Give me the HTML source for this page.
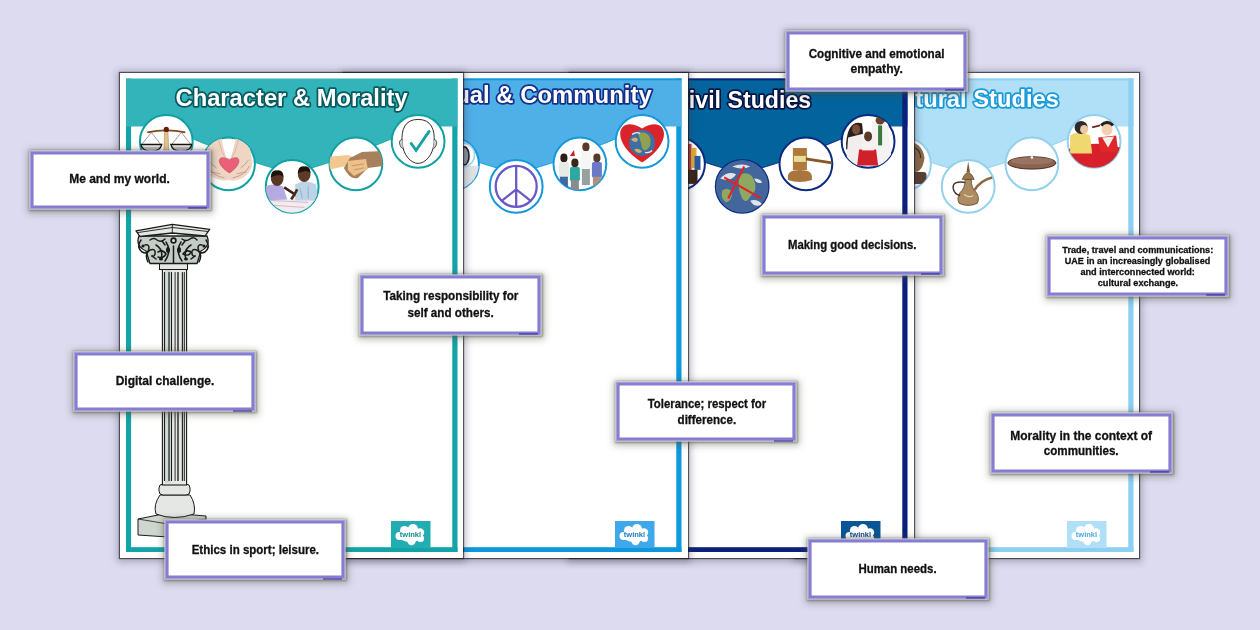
<!DOCTYPE html><html><head><meta charset="utf-8"><title>Twinkl PSHE posters</title><style>

html,body{margin:0;padding:0}
body{width:1260px;height:630px;overflow:hidden;background:#dddbf0;position:relative;font-family:"Liberation Sans",sans-serif}
.poster svg{will-change:transform}
.poster{position:absolute;top:72.5px;width:343.5px;height:485px;background:#fff;box-shadow:0 0 1px 1px rgba(25,25,35,.68),0 1px 7px 3px rgba(60,60,80,.33)}
.card{position:absolute;box-sizing:border-box;background:#fff;border:1.4px solid #a49ee2;box-shadow:inset 0 0 0 2.6px #847dd0,0 0 0 .8px rgba(255,255,255,.5),0 0 2px 1.5px rgba(90,90,65,.55),0 1px 7px 3.5px rgba(75,75,65,.36)}
.tw{position:absolute;right:2px;bottom:-1.5px;width:19px;height:2px;background:#1c1490;opacity:.45}

</style></head><body>
<div class="poster" id="p4" style="left:795.5px">
<svg width="343.5" height="485.0" viewBox="0 0 343.5 485.0" style="position:absolute;left:0;top:0" font-family="Liberation Sans" font-weight="bold">
<defs>
<clipPath id="p4c0"><circle cx="46.3" cy="68.4" r="26.4"/></clipPath>
<clipPath id="p4c1"><circle cx="108.5" cy="90.9" r="26.4"/></clipPath>
<clipPath id="p4c2"><circle cx="172.2" cy="113.4" r="26.4"/></clipPath>
<clipPath id="p4c3"><circle cx="235.9" cy="90.9" r="26.4"/></clipPath>
<clipPath id="p4c4"><circle cx="298.1" cy="68.4" r="26.4"/></clipPath>
</defs>
<rect x="6" y="5.5" width="331.5" height="48" fill="#b0dff8"/>
<path d="M37.2,52.90 L44.2,53.59 L45.2,54.03 L46.2,54.47 L47.2,54.91 L48.2,55.34 L49.2,55.78 L50.2,56.22 L51.2,56.66 L52.2,57.09 L53.2,57.52 L54.2,57.96 L55.2,58.39 L56.2,58.82 L57.2,59.25 L58.2,59.68 L59.2,60.11 L60.2,60.54 L61.2,60.97 L62.2,61.39 L63.2,61.82 L64.2,62.24 L65.2,62.67 L66.2,63.09 L67.2,63.51 L68.2,63.93 L69.2,64.35 L70.2,64.77 L71.2,65.19 L72.2,65.61 L73.2,66.02 L74.2,66.44 L75.2,66.85 L76.2,67.26 L77.2,67.68 L78.2,68.09 L79.2,68.50 L80.2,68.91 L81.2,69.31 L82.2,69.72 L83.2,70.13 L84.2,70.53 L85.2,70.94 L86.2,71.34 L87.2,71.74 L88.2,72.14 L89.2,72.54 L90.2,72.94 L91.2,73.34 L92.2,73.73 L93.2,74.13 L94.2,74.52 L95.2,74.91 L96.2,75.30 L97.2,75.69 L98.2,76.08 L99.2,76.47 L100.2,76.86 L101.2,77.24 L102.2,77.62 L103.2,78.01 L104.2,78.39 L105.2,78.77 L106.2,79.15 L107.2,79.52 L108.2,79.90 L109.2,80.27 L110.2,80.65 L111.2,81.02 L112.2,81.39 L113.2,81.76 L114.2,82.13 L115.2,82.49 L116.2,82.86 L117.2,83.22 L118.2,83.58 L119.2,83.94 L120.2,84.30 L121.2,84.66 L122.2,85.01 L123.2,85.36 L124.2,85.72 L125.2,86.06 L126.2,86.41 L127.2,86.76 L128.2,87.10 L129.2,87.45 L130.2,87.79 L131.2,88.13 L132.2,88.46 L133.2,88.80 L134.2,89.13 L135.2,89.46 L136.2,89.79 L137.2,90.12 L138.2,90.44 L139.2,90.77 L140.2,91.09 L141.2,91.40 L142.2,91.72 L143.2,92.03 L144.2,92.34 L145.2,92.65 L146.2,92.96 L147.2,93.26 L148.2,93.56 L149.2,93.86 L150.2,94.15 L151.2,94.44 L152.2,94.73 L153.2,95.01 L154.2,95.29 L155.2,95.57 L156.2,95.84 L157.2,96.11 L158.2,96.38 L159.2,96.64 L160.2,96.89 L161.2,97.14 L162.2,97.39 L163.2,97.63 L164.2,97.86 L165.2,98.09 L166.2,98.31 L167.2,98.52 L168.2,98.72 L169.2,98.91 L170.2,99.09 L171.2,99.25 L172.2,99.36 L173.2,99.25 L174.2,99.09 L175.2,98.91 L176.2,98.72 L177.2,98.52 L178.2,98.31 L179.2,98.09 L180.2,97.86 L181.2,97.63 L182.2,97.39 L183.2,97.14 L184.2,96.89 L185.2,96.64 L186.2,96.38 L187.2,96.11 L188.2,95.84 L189.2,95.57 L190.2,95.29 L191.2,95.01 L192.2,94.73 L193.2,94.44 L194.2,94.15 L195.2,93.86 L196.2,93.56 L197.2,93.26 L198.2,92.96 L199.2,92.65 L200.2,92.34 L201.2,92.03 L202.2,91.72 L203.2,91.40 L204.2,91.09 L205.2,90.77 L206.2,90.44 L207.2,90.12 L208.2,89.79 L209.2,89.46 L210.2,89.13 L211.2,88.80 L212.2,88.46 L213.2,88.13 L214.2,87.79 L215.2,87.45 L216.2,87.10 L217.2,86.76 L218.2,86.41 L219.2,86.06 L220.2,85.72 L221.2,85.36 L222.2,85.01 L223.2,84.66 L224.2,84.30 L225.2,83.94 L226.2,83.58 L227.2,83.22 L228.2,82.86 L229.2,82.49 L230.2,82.13 L231.2,81.76 L232.2,81.39 L233.2,81.02 L234.2,80.65 L235.2,80.27 L236.2,79.90 L237.2,79.52 L238.2,79.15 L239.2,78.77 L240.2,78.39 L241.2,78.01 L242.2,77.62 L243.2,77.24 L244.2,76.86 L245.2,76.47 L246.2,76.08 L247.2,75.69 L248.2,75.30 L249.2,74.91 L250.2,74.52 L251.2,74.13 L252.2,73.73 L253.2,73.34 L254.2,72.94 L255.2,72.54 L256.2,72.14 L257.2,71.74 L258.2,71.34 L259.2,70.94 L260.2,70.53 L261.2,70.13 L262.2,69.72 L263.2,69.31 L264.2,68.91 L265.2,68.50 L266.2,68.09 L267.2,67.68 L268.2,67.26 L269.2,66.85 L270.2,66.44 L271.2,66.02 L272.2,65.61 L273.2,65.19 L274.2,64.77 L275.2,64.35 L276.2,63.93 L277.2,63.51 L278.2,63.09 L279.2,62.67 L280.2,62.24 L281.2,61.82 L282.2,61.39 L283.2,60.97 L284.2,60.54 L285.2,60.11 L286.2,59.68 L287.2,59.25 L288.2,58.82 L289.2,58.39 L290.2,57.96 L291.2,57.52 L292.2,57.09 L293.2,56.66 L294.2,56.22 L295.2,55.78 L296.2,55.34 L297.2,54.91 L298.2,54.47 L299.2,54.03 L300.2,53.59 L307.2,52.90 Z" fill="#b0dff8"/>
<path d="M44.2,53.59 L45.2,54.03 L46.2,54.47 L47.2,54.91 L48.2,55.34 L49.2,55.78 L50.2,56.22 L51.2,56.66 L52.2,57.09 L53.2,57.52 L54.2,57.96 L55.2,58.39 L56.2,58.82 L57.2,59.25 L58.2,59.68 L59.2,60.11 L60.2,60.54 L61.2,60.97 L62.2,61.39 L63.2,61.82 L64.2,62.24 L65.2,62.67 L66.2,63.09 L67.2,63.51 L68.2,63.93 L69.2,64.35 L70.2,64.77 L71.2,65.19 L72.2,65.61 L73.2,66.02 L74.2,66.44 L75.2,66.85 L76.2,67.26 L77.2,67.68 L78.2,68.09 L79.2,68.50 L80.2,68.91 L81.2,69.31 L82.2,69.72 L83.2,70.13 L84.2,70.53 L85.2,70.94 L86.2,71.34 L87.2,71.74 L88.2,72.14 L89.2,72.54 L90.2,72.94 L91.2,73.34 L92.2,73.73 L93.2,74.13 L94.2,74.52 L95.2,74.91 L96.2,75.30 L97.2,75.69 L98.2,76.08 L99.2,76.47 L100.2,76.86 L101.2,77.24 L102.2,77.62 L103.2,78.01 L104.2,78.39 L105.2,78.77 L106.2,79.15 L107.2,79.52 L108.2,79.90 L109.2,80.27 L110.2,80.65 L111.2,81.02 L112.2,81.39 L113.2,81.76 L114.2,82.13 L115.2,82.49 L116.2,82.86 L117.2,83.22 L118.2,83.58 L119.2,83.94 L120.2,84.30 L121.2,84.66 L122.2,85.01 L123.2,85.36 L124.2,85.72 L125.2,86.06 L126.2,86.41 L127.2,86.76 L128.2,87.10 L129.2,87.45 L130.2,87.79 L131.2,88.13 L132.2,88.46 L133.2,88.80 L134.2,89.13 L135.2,89.46 L136.2,89.79 L137.2,90.12 L138.2,90.44 L139.2,90.77 L140.2,91.09 L141.2,91.40 L142.2,91.72 L143.2,92.03 L144.2,92.34 L145.2,92.65 L146.2,92.96 L147.2,93.26 L148.2,93.56 L149.2,93.86 L150.2,94.15 L151.2,94.44 L152.2,94.73 L153.2,95.01 L154.2,95.29 L155.2,95.57 L156.2,95.84 L157.2,96.11 L158.2,96.38 L159.2,96.64 L160.2,96.89 L161.2,97.14 L162.2,97.39 L163.2,97.63 L164.2,97.86 L165.2,98.09 L166.2,98.31 L167.2,98.52 L168.2,98.72 L169.2,98.91 L170.2,99.09 L171.2,99.25 L172.2,99.36 L173.2,99.25 L174.2,99.09 L175.2,98.91 L176.2,98.72 L177.2,98.52 L178.2,98.31 L179.2,98.09 L180.2,97.86 L181.2,97.63 L182.2,97.39 L183.2,97.14 L184.2,96.89 L185.2,96.64 L186.2,96.38 L187.2,96.11 L188.2,95.84 L189.2,95.57 L190.2,95.29 L191.2,95.01 L192.2,94.73 L193.2,94.44 L194.2,94.15 L195.2,93.86 L196.2,93.56 L197.2,93.26 L198.2,92.96 L199.2,92.65 L200.2,92.34 L201.2,92.03 L202.2,91.72 L203.2,91.40 L204.2,91.09 L205.2,90.77 L206.2,90.44 L207.2,90.12 L208.2,89.79 L209.2,89.46 L210.2,89.13 L211.2,88.80 L212.2,88.46 L213.2,88.13 L214.2,87.79 L215.2,87.45 L216.2,87.10 L217.2,86.76 L218.2,86.41 L219.2,86.06 L220.2,85.72 L221.2,85.36 L222.2,85.01 L223.2,84.66 L224.2,84.30 L225.2,83.94 L226.2,83.58 L227.2,83.22 L228.2,82.86 L229.2,82.49 L230.2,82.13 L231.2,81.76 L232.2,81.39 L233.2,81.02 L234.2,80.65 L235.2,80.27 L236.2,79.90 L237.2,79.52 L238.2,79.15 L239.2,78.77 L240.2,78.39 L241.2,78.01 L242.2,77.62 L243.2,77.24 L244.2,76.86 L245.2,76.47 L246.2,76.08 L247.2,75.69 L248.2,75.30 L249.2,74.91 L250.2,74.52 L251.2,74.13 L252.2,73.73 L253.2,73.34 L254.2,72.94 L255.2,72.54 L256.2,72.14 L257.2,71.74 L258.2,71.34 L259.2,70.94 L260.2,70.53 L261.2,70.13 L262.2,69.72 L263.2,69.31 L264.2,68.91 L265.2,68.50 L266.2,68.09 L267.2,67.68 L268.2,67.26 L269.2,66.85 L270.2,66.44 L271.2,66.02 L272.2,65.61 L273.2,65.19 L274.2,64.77 L275.2,64.35 L276.2,63.93 L277.2,63.51 L278.2,63.09 L279.2,62.67 L280.2,62.24 L281.2,61.82 L282.2,61.39 L283.2,60.97 L284.2,60.54 L285.2,60.11 L286.2,59.68 L287.2,59.25 L288.2,58.82 L289.2,58.39 L290.2,57.96 L291.2,57.52 L292.2,57.09 L293.2,56.66 L294.2,56.22 L295.2,55.78 L296.2,55.34 L297.2,54.91 L298.2,54.47 L299.2,54.03 L300.2,53.59" fill="none" stroke="#8ccff2" stroke-width="1"/>
<rect x="6" y="5.5" width="5.1" height="473.5" fill="#8ccff2"/><rect x="332.3" y="5.5" width="5.2" height="473.5" fill="#8ccff2"/><rect x="6" y="474.2" width="331.5" height="4.8" fill="#8ccff2"/>
<rect x="6" y="5.5" width="331.5" height="1.8" fill="#8ccff2"/>
<rect x="271" y="448" width="39.5" height="27" fill="#b0dff8"/>
<g fill="#fff"><ellipse cx="290.5" cy="462.5" rx="12.5" ry="6.5"/><circle cx="284.5" cy="457.5" r="4.6"/><circle cx="293.0" cy="456.0" r="5"/><circle cx="300.0" cy="459.5" r="4.2"/><circle cx="279.5" cy="463.0" r="4"/><circle cx="291.5" cy="468.0" r="4.2"/><circle cx="300.5" cy="465.5" r="3.6"/></g>
<text x="290.5" y="464.3" font-size="7.5" fill="#4aa8e0" text-anchor="middle">twinkl</text>
<circle cx="46.3" cy="68.4" r="26.4" fill="#fff" stroke="#93d0ee" stroke-width="2"/>
<circle cx="108.5" cy="90.9" r="26.4" fill="#fff" stroke="#93d0ee" stroke-width="2"/>
<g clip-path="url(#p4c1)"><path d="M114.5,68.9 q12,2 14,16 q-2,14 -10,14 q-8,-10 -4,-30z" fill="#8a6a4a"/><path d="M118.5,74.9 q6,2 6,10" stroke="#3a2a20" stroke-width="1.2" fill="none"/><rect x="112.5" y="98.9" width="18" height="12" rx="3" fill="#5a4030"/></g>
<circle cx="172.2" cy="113.4" r="26.4" fill="#fff" stroke="#93d0ee" stroke-width="2"/>
<g clip-path="url(#p4c2)"><path d="M169.2,106.4 L175.2,106.4 Q175.2,115.4 180.2,119.4 Q184.2,125.4 181.2,130.4 Q172.2,134.4 163.2,130.4 Q160.2,125.4 164.2,119.4 Q169.2,115.4 169.2,106.4Z" fill="#ad8c62" stroke="#5a4028" stroke-width=".8"/><path d="M166.2,106.4 L178.2,106.4 Q176.2,100.4 172.2,99.4 Q168.2,100.4 166.2,106.4Z" fill="#9a7a50" stroke="#5a4028" stroke-width=".7"/><path d="M172.2,88.4 L174.0,99.4 L170.39999999999998,99.4Z" fill="#7a5a34"/><path d="M178.2,117.4 Q184.2,107.4 196.2,104.4" stroke="#8a6a44" stroke-width="2.6" fill="none"/><path d="M169.2,109.4 Q156.2,107.4 157.2,115.4 Q158.2,121.4 164.2,122.4" stroke="#4a3420" stroke-width="1.5" fill="none"/><path d="M168.2,121.4 q4,4 9,1" stroke="#e8d8b8" stroke-width="1.2" fill="none"/></g>
<circle cx="235.9" cy="90.9" r="26.4" fill="#fff" stroke="#93d0ee" stroke-width="2"/>
<g clip-path="url(#p4c3)"><ellipse cx="235.9" cy="89.9" rx="24" ry="6.2" fill="#8a6450" stroke="#3a2418" stroke-width=".9"/><ellipse cx="235.9" cy="87.9" rx="21" ry="3.6" fill="#9a7460"/><circle cx="235.9" cy="84.4" r="1.3" fill="#fff"/></g>
<circle cx="298.1" cy="68.4" r="26.4" fill="#fff" stroke="#93d0ee" stroke-width="2"/>
<g clip-path="url(#p4c4)"><path d="M272.1,76.4 Q298.1,66.4 324.1,74.4 L324.1,96.4 L272.1,96.4Z" fill="#d8202a"/><path d="M274.1,62.400000000000006 Q283.1,56.400000000000006 294.1,62.400000000000006 L296.1,80.4 L274.1,80.4Z" fill="#f0d870"/><ellipse cx="285.1" cy="54.400000000000006" rx="6.5" ry="6.5" fill="#2a2a30"/><ellipse cx="288.1" cy="56.400000000000006" rx="4" ry="4.5" fill="#f0c8a0"/><path d="M302.1,64.4 L320.1,62.400000000000006 L322.1,78.4 L304.1,78.4Z" fill="#e0282a"/><path d="M306.1,64.4 L312.1,74.4 L318.1,63.400000000000006" fill="#f4f0e8"/><ellipse cx="311.1" cy="56.400000000000006" rx="5.5" ry="6" fill="#f2d0b0"/><path d="M305.1,52.400000000000006 q6,-6 12,0" stroke="#2a2020" stroke-width="3" fill="none"/><path d="M296.1,54.400000000000006 l8,-2" stroke="#7a2020" stroke-width="2"/></g>
<text x="81.05" y="33.60" font-size="23" textLength="181.83" lengthAdjust="spacingAndGlyphs" fill="#fff" stroke="#1a9ad8" stroke-width="3.4" stroke-linejoin="round" paint-order="stroke">Cultural Studies</text>
</svg>
</div>
<div class="poster" id="p3" style="left:570.3px">
<svg width="343.5" height="485.0" viewBox="0 0 343.5 485.0" style="position:absolute;left:0;top:0" font-family="Liberation Sans" font-weight="bold">
<defs>
<clipPath id="p3c0"><circle cx="46.3" cy="68.4" r="26.4"/></clipPath>
<clipPath id="p3c1"><circle cx="108.5" cy="90.9" r="26.4"/></clipPath>
<clipPath id="p3c2"><circle cx="172.2" cy="113.4" r="26.4"/></clipPath>
<clipPath id="p3c3"><circle cx="235.9" cy="90.9" r="26.4"/></clipPath>
<clipPath id="p3c4"><circle cx="298.1" cy="68.4" r="26.4"/></clipPath>
</defs>
<rect x="6" y="5.5" width="331.5" height="48" fill="#03649d"/>
<path d="M37.2,52.90 L44.2,53.59 L45.2,54.03 L46.2,54.47 L47.2,54.91 L48.2,55.34 L49.2,55.78 L50.2,56.22 L51.2,56.66 L52.2,57.09 L53.2,57.52 L54.2,57.96 L55.2,58.39 L56.2,58.82 L57.2,59.25 L58.2,59.68 L59.2,60.11 L60.2,60.54 L61.2,60.97 L62.2,61.39 L63.2,61.82 L64.2,62.24 L65.2,62.67 L66.2,63.09 L67.2,63.51 L68.2,63.93 L69.2,64.35 L70.2,64.77 L71.2,65.19 L72.2,65.61 L73.2,66.02 L74.2,66.44 L75.2,66.85 L76.2,67.26 L77.2,67.68 L78.2,68.09 L79.2,68.50 L80.2,68.91 L81.2,69.31 L82.2,69.72 L83.2,70.13 L84.2,70.53 L85.2,70.94 L86.2,71.34 L87.2,71.74 L88.2,72.14 L89.2,72.54 L90.2,72.94 L91.2,73.34 L92.2,73.73 L93.2,74.13 L94.2,74.52 L95.2,74.91 L96.2,75.30 L97.2,75.69 L98.2,76.08 L99.2,76.47 L100.2,76.86 L101.2,77.24 L102.2,77.62 L103.2,78.01 L104.2,78.39 L105.2,78.77 L106.2,79.15 L107.2,79.52 L108.2,79.90 L109.2,80.27 L110.2,80.65 L111.2,81.02 L112.2,81.39 L113.2,81.76 L114.2,82.13 L115.2,82.49 L116.2,82.86 L117.2,83.22 L118.2,83.58 L119.2,83.94 L120.2,84.30 L121.2,84.66 L122.2,85.01 L123.2,85.36 L124.2,85.72 L125.2,86.06 L126.2,86.41 L127.2,86.76 L128.2,87.10 L129.2,87.45 L130.2,87.79 L131.2,88.13 L132.2,88.46 L133.2,88.80 L134.2,89.13 L135.2,89.46 L136.2,89.79 L137.2,90.12 L138.2,90.44 L139.2,90.77 L140.2,91.09 L141.2,91.40 L142.2,91.72 L143.2,92.03 L144.2,92.34 L145.2,92.65 L146.2,92.96 L147.2,93.26 L148.2,93.56 L149.2,93.86 L150.2,94.15 L151.2,94.44 L152.2,94.73 L153.2,95.01 L154.2,95.29 L155.2,95.57 L156.2,95.84 L157.2,96.11 L158.2,96.38 L159.2,96.64 L160.2,96.89 L161.2,97.14 L162.2,97.39 L163.2,97.63 L164.2,97.86 L165.2,98.09 L166.2,98.31 L167.2,98.52 L168.2,98.72 L169.2,98.91 L170.2,99.09 L171.2,99.25 L172.2,99.36 L173.2,99.25 L174.2,99.09 L175.2,98.91 L176.2,98.72 L177.2,98.52 L178.2,98.31 L179.2,98.09 L180.2,97.86 L181.2,97.63 L182.2,97.39 L183.2,97.14 L184.2,96.89 L185.2,96.64 L186.2,96.38 L187.2,96.11 L188.2,95.84 L189.2,95.57 L190.2,95.29 L191.2,95.01 L192.2,94.73 L193.2,94.44 L194.2,94.15 L195.2,93.86 L196.2,93.56 L197.2,93.26 L198.2,92.96 L199.2,92.65 L200.2,92.34 L201.2,92.03 L202.2,91.72 L203.2,91.40 L204.2,91.09 L205.2,90.77 L206.2,90.44 L207.2,90.12 L208.2,89.79 L209.2,89.46 L210.2,89.13 L211.2,88.80 L212.2,88.46 L213.2,88.13 L214.2,87.79 L215.2,87.45 L216.2,87.10 L217.2,86.76 L218.2,86.41 L219.2,86.06 L220.2,85.72 L221.2,85.36 L222.2,85.01 L223.2,84.66 L224.2,84.30 L225.2,83.94 L226.2,83.58 L227.2,83.22 L228.2,82.86 L229.2,82.49 L230.2,82.13 L231.2,81.76 L232.2,81.39 L233.2,81.02 L234.2,80.65 L235.2,80.27 L236.2,79.90 L237.2,79.52 L238.2,79.15 L239.2,78.77 L240.2,78.39 L241.2,78.01 L242.2,77.62 L243.2,77.24 L244.2,76.86 L245.2,76.47 L246.2,76.08 L247.2,75.69 L248.2,75.30 L249.2,74.91 L250.2,74.52 L251.2,74.13 L252.2,73.73 L253.2,73.34 L254.2,72.94 L255.2,72.54 L256.2,72.14 L257.2,71.74 L258.2,71.34 L259.2,70.94 L260.2,70.53 L261.2,70.13 L262.2,69.72 L263.2,69.31 L264.2,68.91 L265.2,68.50 L266.2,68.09 L267.2,67.68 L268.2,67.26 L269.2,66.85 L270.2,66.44 L271.2,66.02 L272.2,65.61 L273.2,65.19 L274.2,64.77 L275.2,64.35 L276.2,63.93 L277.2,63.51 L278.2,63.09 L279.2,62.67 L280.2,62.24 L281.2,61.82 L282.2,61.39 L283.2,60.97 L284.2,60.54 L285.2,60.11 L286.2,59.68 L287.2,59.25 L288.2,58.82 L289.2,58.39 L290.2,57.96 L291.2,57.52 L292.2,57.09 L293.2,56.66 L294.2,56.22 L295.2,55.78 L296.2,55.34 L297.2,54.91 L298.2,54.47 L299.2,54.03 L300.2,53.59 L307.2,52.90 Z" fill="#03649d"/>
<path d="M44.2,53.59 L45.2,54.03 L46.2,54.47 L47.2,54.91 L48.2,55.34 L49.2,55.78 L50.2,56.22 L51.2,56.66 L52.2,57.09 L53.2,57.52 L54.2,57.96 L55.2,58.39 L56.2,58.82 L57.2,59.25 L58.2,59.68 L59.2,60.11 L60.2,60.54 L61.2,60.97 L62.2,61.39 L63.2,61.82 L64.2,62.24 L65.2,62.67 L66.2,63.09 L67.2,63.51 L68.2,63.93 L69.2,64.35 L70.2,64.77 L71.2,65.19 L72.2,65.61 L73.2,66.02 L74.2,66.44 L75.2,66.85 L76.2,67.26 L77.2,67.68 L78.2,68.09 L79.2,68.50 L80.2,68.91 L81.2,69.31 L82.2,69.72 L83.2,70.13 L84.2,70.53 L85.2,70.94 L86.2,71.34 L87.2,71.74 L88.2,72.14 L89.2,72.54 L90.2,72.94 L91.2,73.34 L92.2,73.73 L93.2,74.13 L94.2,74.52 L95.2,74.91 L96.2,75.30 L97.2,75.69 L98.2,76.08 L99.2,76.47 L100.2,76.86 L101.2,77.24 L102.2,77.62 L103.2,78.01 L104.2,78.39 L105.2,78.77 L106.2,79.15 L107.2,79.52 L108.2,79.90 L109.2,80.27 L110.2,80.65 L111.2,81.02 L112.2,81.39 L113.2,81.76 L114.2,82.13 L115.2,82.49 L116.2,82.86 L117.2,83.22 L118.2,83.58 L119.2,83.94 L120.2,84.30 L121.2,84.66 L122.2,85.01 L123.2,85.36 L124.2,85.72 L125.2,86.06 L126.2,86.41 L127.2,86.76 L128.2,87.10 L129.2,87.45 L130.2,87.79 L131.2,88.13 L132.2,88.46 L133.2,88.80 L134.2,89.13 L135.2,89.46 L136.2,89.79 L137.2,90.12 L138.2,90.44 L139.2,90.77 L140.2,91.09 L141.2,91.40 L142.2,91.72 L143.2,92.03 L144.2,92.34 L145.2,92.65 L146.2,92.96 L147.2,93.26 L148.2,93.56 L149.2,93.86 L150.2,94.15 L151.2,94.44 L152.2,94.73 L153.2,95.01 L154.2,95.29 L155.2,95.57 L156.2,95.84 L157.2,96.11 L158.2,96.38 L159.2,96.64 L160.2,96.89 L161.2,97.14 L162.2,97.39 L163.2,97.63 L164.2,97.86 L165.2,98.09 L166.2,98.31 L167.2,98.52 L168.2,98.72 L169.2,98.91 L170.2,99.09 L171.2,99.25 L172.2,99.36 L173.2,99.25 L174.2,99.09 L175.2,98.91 L176.2,98.72 L177.2,98.52 L178.2,98.31 L179.2,98.09 L180.2,97.86 L181.2,97.63 L182.2,97.39 L183.2,97.14 L184.2,96.89 L185.2,96.64 L186.2,96.38 L187.2,96.11 L188.2,95.84 L189.2,95.57 L190.2,95.29 L191.2,95.01 L192.2,94.73 L193.2,94.44 L194.2,94.15 L195.2,93.86 L196.2,93.56 L197.2,93.26 L198.2,92.96 L199.2,92.65 L200.2,92.34 L201.2,92.03 L202.2,91.72 L203.2,91.40 L204.2,91.09 L205.2,90.77 L206.2,90.44 L207.2,90.12 L208.2,89.79 L209.2,89.46 L210.2,89.13 L211.2,88.80 L212.2,88.46 L213.2,88.13 L214.2,87.79 L215.2,87.45 L216.2,87.10 L217.2,86.76 L218.2,86.41 L219.2,86.06 L220.2,85.72 L221.2,85.36 L222.2,85.01 L223.2,84.66 L224.2,84.30 L225.2,83.94 L226.2,83.58 L227.2,83.22 L228.2,82.86 L229.2,82.49 L230.2,82.13 L231.2,81.76 L232.2,81.39 L233.2,81.02 L234.2,80.65 L235.2,80.27 L236.2,79.90 L237.2,79.52 L238.2,79.15 L239.2,78.77 L240.2,78.39 L241.2,78.01 L242.2,77.62 L243.2,77.24 L244.2,76.86 L245.2,76.47 L246.2,76.08 L247.2,75.69 L248.2,75.30 L249.2,74.91 L250.2,74.52 L251.2,74.13 L252.2,73.73 L253.2,73.34 L254.2,72.94 L255.2,72.54 L256.2,72.14 L257.2,71.74 L258.2,71.34 L259.2,70.94 L260.2,70.53 L261.2,70.13 L262.2,69.72 L263.2,69.31 L264.2,68.91 L265.2,68.50 L266.2,68.09 L267.2,67.68 L268.2,67.26 L269.2,66.85 L270.2,66.44 L271.2,66.02 L272.2,65.61 L273.2,65.19 L274.2,64.77 L275.2,64.35 L276.2,63.93 L277.2,63.51 L278.2,63.09 L279.2,62.67 L280.2,62.24 L281.2,61.82 L282.2,61.39 L283.2,60.97 L284.2,60.54 L285.2,60.11 L286.2,59.68 L287.2,59.25 L288.2,58.82 L289.2,58.39 L290.2,57.96 L291.2,57.52 L292.2,57.09 L293.2,56.66 L294.2,56.22 L295.2,55.78 L296.2,55.34 L297.2,54.91 L298.2,54.47 L299.2,54.03 L300.2,53.59" fill="none" stroke="#0b1f7d" stroke-width="1"/>
<rect x="6" y="5.5" width="5.1" height="473.5" fill="#0b1f7d"/><rect x="332.3" y="5.5" width="5.2" height="473.5" fill="#0b1f7d"/><rect x="6" y="474.2" width="331.5" height="4.8" fill="#0b1f7d"/>
<rect x="6" y="5.5" width="331.5" height="1.8" fill="#0b1f7d"/>
<rect x="271" y="448" width="39.5" height="27" fill="#0a5596"/>
<g fill="#fff"><ellipse cx="290.5" cy="462.5" rx="12.5" ry="6.5"/><circle cx="284.5" cy="457.5" r="4.6"/><circle cx="293.0" cy="456.0" r="5"/><circle cx="300.0" cy="459.5" r="4.2"/><circle cx="279.5" cy="463.0" r="4"/><circle cx="291.5" cy="468.0" r="4.2"/><circle cx="300.5" cy="465.5" r="3.6"/></g>
<text x="290.5" y="464.3" font-size="7.5" fill="#0a4a8a" text-anchor="middle">twinkl</text>
<circle cx="46.3" cy="68.4" r="26.4" fill="#fff" stroke="#0b2a82" stroke-width="2"/>
<circle cx="108.5" cy="90.9" r="26.4" fill="#fff" stroke="#0b2a82" stroke-width="2"/>
<g clip-path="url(#p3c1)"><rect x="117.5" y="70.9" width="4" height="36" fill="#c83a2a"/><rect x="121.5" y="74.9" width="5" height="20" fill="#e0b030"/><rect x="124.5" y="82.9" width="6" height="14" fill="#2a5aa0"/><rect x="117.5" y="96.9" width="10" height="14" fill="#3a2418"/></g>
<circle cx="172.2" cy="113.4" r="26.4" fill="#fff" stroke="#0b2a82" stroke-width="2"/>
<g clip-path="url(#p3c2)"><circle cx="172.2" cy="113.4" r="26.5" fill="#43669c"/><path d="M170.2,101.4 q10,-4 14,6 q4,10 -4,16 q-4,8 -8,2 q-6,-12 -2,-24z M152.2,117.4 q6,-4 10,2 q0,8 -6,10 q-6,-4 -4,-12z" fill="#8ea862"/><path d="M150.2,105.4 q8,-8 16,-4 q-6,8 -16,4z M180.2,127.4 q8,-2 12,4 q-8,4 -12,-4z M162.2,93.4 q10,-4 18,0 q-8,4 -18,0z M184.2,105.4 q6,0 8,4 q-6,2 -8,-4z" fill="#dfe4ea"/><path d="M154.2,104.4 L191.2,125.4 M174.2,93.4 L158.2,125.4" stroke="#e02428" stroke-width="2.2"/></g>
<circle cx="235.9" cy="90.9" r="26.4" fill="#fff" stroke="#0b2a82" stroke-width="2"/>
<g clip-path="url(#p3c3)"><path d="M217.9,102.9 Q217.9,96.9 229.9,96.9 Q241.9,96.9 241.9,102.9 L241.9,106.9 Q229.9,110.9 217.9,106.9Z" fill="#a8753e"/><path d="M222.9,74.9 L236.9,74.9 L236.9,96.9 L222.9,96.9Z" fill="#b07a3c"/><rect x="223.9" y="82.9" width="12" height="6" fill="#e8dc96"/><path d="M235.9,85.9 L261.9,89.9" stroke="#8a5424" stroke-width="2.6"/></g>
<circle cx="298.1" cy="68.4" r="26.4" fill="#fff" stroke="#0b2a82" stroke-width="2"/>
<g clip-path="url(#p3c4)"><path d="M276.1,70.4 Q278.1,46.400000000000006 292.1,50.400000000000006 L294.1,74.4 L276.1,76.4Z" fill="#2a1e1c"/><path d="M278.1,64.4 L294.1,60.400000000000006 L296.1,92.4 L276.1,92.4Z" fill="#f2eeee"/><ellipse cx="286.1" cy="56.400000000000006" rx="4" ry="5" fill="#7a5038"/><path d="M302.1,48.400000000000006 L318.1,48.400000000000006 L322.1,92.4 L300.1,92.4Z" fill="#f4f2f2"/><rect x="308.1" y="52.400000000000006" width="4" height="20" fill="#3a7a3a"/><ellipse cx="310.1" cy="47.400000000000006" rx="4.5" ry="4" fill="#6a4028"/><path d="M289.1,76.4 L306.1,76.4 L308.1,92.4 L287.1,92.4Z" fill="#d0202a"/><rect x="292.1" y="64.4" width="12" height="13" fill="#f6f0f0"/><ellipse cx="298.1" cy="63.400000000000006" rx="4" ry="5" fill="#5a3a28"/></g>
<text x="102.07" y="34.70" font-size="23" textLength="139.15" lengthAdjust="spacingAndGlyphs" fill="#fff" stroke="#061444" stroke-width="3.4" stroke-linejoin="round" paint-order="stroke">Civil Studies</text>
</svg>
</div>
<div class="poster" id="p2" style="left:344.1px">
<svg width="343.5" height="485.0" viewBox="0 0 343.5 485.0" style="position:absolute;left:0;top:0" font-family="Liberation Sans" font-weight="bold">
<defs>
<clipPath id="p2c0"><circle cx="46.3" cy="68.4" r="26.4"/></clipPath>
<clipPath id="p2c1"><circle cx="108.5" cy="90.9" r="26.4"/></clipPath>
<clipPath id="p2c2"><circle cx="172.2" cy="113.4" r="26.4"/></clipPath>
<clipPath id="p2c3"><circle cx="235.9" cy="90.9" r="26.4"/></clipPath>
<clipPath id="p2c4"><circle cx="298.1" cy="68.4" r="26.4"/></clipPath>
</defs>
<rect x="6" y="5.5" width="5.1" height="473.5" fill="#0b98de"/><rect x="332.3" y="5.5" width="5.2" height="473.5" fill="#0b98de"/><rect x="6" y="474.2" width="331.5" height="4.8" fill="#0b98de"/>
<rect x="6" y="5.5" width="331.5" height="48" fill="#4fb0e8"/>
<path d="M37.2,52.90 L44.2,53.59 L45.2,54.03 L46.2,54.47 L47.2,54.91 L48.2,55.34 L49.2,55.78 L50.2,56.22 L51.2,56.66 L52.2,57.09 L53.2,57.52 L54.2,57.96 L55.2,58.39 L56.2,58.82 L57.2,59.25 L58.2,59.68 L59.2,60.11 L60.2,60.54 L61.2,60.97 L62.2,61.39 L63.2,61.82 L64.2,62.24 L65.2,62.67 L66.2,63.09 L67.2,63.51 L68.2,63.93 L69.2,64.35 L70.2,64.77 L71.2,65.19 L72.2,65.61 L73.2,66.02 L74.2,66.44 L75.2,66.85 L76.2,67.26 L77.2,67.68 L78.2,68.09 L79.2,68.50 L80.2,68.91 L81.2,69.31 L82.2,69.72 L83.2,70.13 L84.2,70.53 L85.2,70.94 L86.2,71.34 L87.2,71.74 L88.2,72.14 L89.2,72.54 L90.2,72.94 L91.2,73.34 L92.2,73.73 L93.2,74.13 L94.2,74.52 L95.2,74.91 L96.2,75.30 L97.2,75.69 L98.2,76.08 L99.2,76.47 L100.2,76.86 L101.2,77.24 L102.2,77.62 L103.2,78.01 L104.2,78.39 L105.2,78.77 L106.2,79.15 L107.2,79.52 L108.2,79.90 L109.2,80.27 L110.2,80.65 L111.2,81.02 L112.2,81.39 L113.2,81.76 L114.2,82.13 L115.2,82.49 L116.2,82.86 L117.2,83.22 L118.2,83.58 L119.2,83.94 L120.2,84.30 L121.2,84.66 L122.2,85.01 L123.2,85.36 L124.2,85.72 L125.2,86.06 L126.2,86.41 L127.2,86.76 L128.2,87.10 L129.2,87.45 L130.2,87.79 L131.2,88.13 L132.2,88.46 L133.2,88.80 L134.2,89.13 L135.2,89.46 L136.2,89.79 L137.2,90.12 L138.2,90.44 L139.2,90.77 L140.2,91.09 L141.2,91.40 L142.2,91.72 L143.2,92.03 L144.2,92.34 L145.2,92.65 L146.2,92.96 L147.2,93.26 L148.2,93.56 L149.2,93.86 L150.2,94.15 L151.2,94.44 L152.2,94.73 L153.2,95.01 L154.2,95.29 L155.2,95.57 L156.2,95.84 L157.2,96.11 L158.2,96.38 L159.2,96.64 L160.2,96.89 L161.2,97.14 L162.2,97.39 L163.2,97.63 L164.2,97.86 L165.2,98.09 L166.2,98.31 L167.2,98.52 L168.2,98.72 L169.2,98.91 L170.2,99.09 L171.2,99.25 L172.2,99.36 L173.2,99.25 L174.2,99.09 L175.2,98.91 L176.2,98.72 L177.2,98.52 L178.2,98.31 L179.2,98.09 L180.2,97.86 L181.2,97.63 L182.2,97.39 L183.2,97.14 L184.2,96.89 L185.2,96.64 L186.2,96.38 L187.2,96.11 L188.2,95.84 L189.2,95.57 L190.2,95.29 L191.2,95.01 L192.2,94.73 L193.2,94.44 L194.2,94.15 L195.2,93.86 L196.2,93.56 L197.2,93.26 L198.2,92.96 L199.2,92.65 L200.2,92.34 L201.2,92.03 L202.2,91.72 L203.2,91.40 L204.2,91.09 L205.2,90.77 L206.2,90.44 L207.2,90.12 L208.2,89.79 L209.2,89.46 L210.2,89.13 L211.2,88.80 L212.2,88.46 L213.2,88.13 L214.2,87.79 L215.2,87.45 L216.2,87.10 L217.2,86.76 L218.2,86.41 L219.2,86.06 L220.2,85.72 L221.2,85.36 L222.2,85.01 L223.2,84.66 L224.2,84.30 L225.2,83.94 L226.2,83.58 L227.2,83.22 L228.2,82.86 L229.2,82.49 L230.2,82.13 L231.2,81.76 L232.2,81.39 L233.2,81.02 L234.2,80.65 L235.2,80.27 L236.2,79.90 L237.2,79.52 L238.2,79.15 L239.2,78.77 L240.2,78.39 L241.2,78.01 L242.2,77.62 L243.2,77.24 L244.2,76.86 L245.2,76.47 L246.2,76.08 L247.2,75.69 L248.2,75.30 L249.2,74.91 L250.2,74.52 L251.2,74.13 L252.2,73.73 L253.2,73.34 L254.2,72.94 L255.2,72.54 L256.2,72.14 L257.2,71.74 L258.2,71.34 L259.2,70.94 L260.2,70.53 L261.2,70.13 L262.2,69.72 L263.2,69.31 L264.2,68.91 L265.2,68.50 L266.2,68.09 L267.2,67.68 L268.2,67.26 L269.2,66.85 L270.2,66.44 L271.2,66.02 L272.2,65.61 L273.2,65.19 L274.2,64.77 L275.2,64.35 L276.2,63.93 L277.2,63.51 L278.2,63.09 L279.2,62.67 L280.2,62.24 L281.2,61.82 L282.2,61.39 L283.2,60.97 L284.2,60.54 L285.2,60.11 L286.2,59.68 L287.2,59.25 L288.2,58.82 L289.2,58.39 L290.2,57.96 L291.2,57.52 L292.2,57.09 L293.2,56.66 L294.2,56.22 L295.2,55.78 L296.2,55.34 L297.2,54.91 L298.2,54.47 L299.2,54.03 L300.2,53.59 L307.2,52.90 Z" fill="#4fb0e8"/>
<path d="M44.2,53.59 L45.2,54.03 L46.2,54.47 L47.2,54.91 L48.2,55.34 L49.2,55.78 L50.2,56.22 L51.2,56.66 L52.2,57.09 L53.2,57.52 L54.2,57.96 L55.2,58.39 L56.2,58.82 L57.2,59.25 L58.2,59.68 L59.2,60.11 L60.2,60.54 L61.2,60.97 L62.2,61.39 L63.2,61.82 L64.2,62.24 L65.2,62.67 L66.2,63.09 L67.2,63.51 L68.2,63.93 L69.2,64.35 L70.2,64.77 L71.2,65.19 L72.2,65.61 L73.2,66.02 L74.2,66.44 L75.2,66.85 L76.2,67.26 L77.2,67.68 L78.2,68.09 L79.2,68.50 L80.2,68.91 L81.2,69.31 L82.2,69.72 L83.2,70.13 L84.2,70.53 L85.2,70.94 L86.2,71.34 L87.2,71.74 L88.2,72.14 L89.2,72.54 L90.2,72.94 L91.2,73.34 L92.2,73.73 L93.2,74.13 L94.2,74.52 L95.2,74.91 L96.2,75.30 L97.2,75.69 L98.2,76.08 L99.2,76.47 L100.2,76.86 L101.2,77.24 L102.2,77.62 L103.2,78.01 L104.2,78.39 L105.2,78.77 L106.2,79.15 L107.2,79.52 L108.2,79.90 L109.2,80.27 L110.2,80.65 L111.2,81.02 L112.2,81.39 L113.2,81.76 L114.2,82.13 L115.2,82.49 L116.2,82.86 L117.2,83.22 L118.2,83.58 L119.2,83.94 L120.2,84.30 L121.2,84.66 L122.2,85.01 L123.2,85.36 L124.2,85.72 L125.2,86.06 L126.2,86.41 L127.2,86.76 L128.2,87.10 L129.2,87.45 L130.2,87.79 L131.2,88.13 L132.2,88.46 L133.2,88.80 L134.2,89.13 L135.2,89.46 L136.2,89.79 L137.2,90.12 L138.2,90.44 L139.2,90.77 L140.2,91.09 L141.2,91.40 L142.2,91.72 L143.2,92.03 L144.2,92.34 L145.2,92.65 L146.2,92.96 L147.2,93.26 L148.2,93.56 L149.2,93.86 L150.2,94.15 L151.2,94.44 L152.2,94.73 L153.2,95.01 L154.2,95.29 L155.2,95.57 L156.2,95.84 L157.2,96.11 L158.2,96.38 L159.2,96.64 L160.2,96.89 L161.2,97.14 L162.2,97.39 L163.2,97.63 L164.2,97.86 L165.2,98.09 L166.2,98.31 L167.2,98.52 L168.2,98.72 L169.2,98.91 L170.2,99.09 L171.2,99.25 L172.2,99.36 L173.2,99.25 L174.2,99.09 L175.2,98.91 L176.2,98.72 L177.2,98.52 L178.2,98.31 L179.2,98.09 L180.2,97.86 L181.2,97.63 L182.2,97.39 L183.2,97.14 L184.2,96.89 L185.2,96.64 L186.2,96.38 L187.2,96.11 L188.2,95.84 L189.2,95.57 L190.2,95.29 L191.2,95.01 L192.2,94.73 L193.2,94.44 L194.2,94.15 L195.2,93.86 L196.2,93.56 L197.2,93.26 L198.2,92.96 L199.2,92.65 L200.2,92.34 L201.2,92.03 L202.2,91.72 L203.2,91.40 L204.2,91.09 L205.2,90.77 L206.2,90.44 L207.2,90.12 L208.2,89.79 L209.2,89.46 L210.2,89.13 L211.2,88.80 L212.2,88.46 L213.2,88.13 L214.2,87.79 L215.2,87.45 L216.2,87.10 L217.2,86.76 L218.2,86.41 L219.2,86.06 L220.2,85.72 L221.2,85.36 L222.2,85.01 L223.2,84.66 L224.2,84.30 L225.2,83.94 L226.2,83.58 L227.2,83.22 L228.2,82.86 L229.2,82.49 L230.2,82.13 L231.2,81.76 L232.2,81.39 L233.2,81.02 L234.2,80.65 L235.2,80.27 L236.2,79.90 L237.2,79.52 L238.2,79.15 L239.2,78.77 L240.2,78.39 L241.2,78.01 L242.2,77.62 L243.2,77.24 L244.2,76.86 L245.2,76.47 L246.2,76.08 L247.2,75.69 L248.2,75.30 L249.2,74.91 L250.2,74.52 L251.2,74.13 L252.2,73.73 L253.2,73.34 L254.2,72.94 L255.2,72.54 L256.2,72.14 L257.2,71.74 L258.2,71.34 L259.2,70.94 L260.2,70.53 L261.2,70.13 L262.2,69.72 L263.2,69.31 L264.2,68.91 L265.2,68.50 L266.2,68.09 L267.2,67.68 L268.2,67.26 L269.2,66.85 L270.2,66.44 L271.2,66.02 L272.2,65.61 L273.2,65.19 L274.2,64.77 L275.2,64.35 L276.2,63.93 L277.2,63.51 L278.2,63.09 L279.2,62.67 L280.2,62.24 L281.2,61.82 L282.2,61.39 L283.2,60.97 L284.2,60.54 L285.2,60.11 L286.2,59.68 L287.2,59.25 L288.2,58.82 L289.2,58.39 L290.2,57.96 L291.2,57.52 L292.2,57.09 L293.2,56.66 L294.2,56.22 L295.2,55.78 L296.2,55.34 L297.2,54.91 L298.2,54.47 L299.2,54.03 L300.2,53.59" fill="none" stroke="#0b98de" stroke-width="1"/>
<rect x="6" y="5.5" width="331.5" height="1.8" fill="#0b98de"/>
<rect x="271" y="448" width="39.5" height="27" fill="#3ea8e8"/>
<g fill="#fff"><ellipse cx="290.5" cy="462.5" rx="12.5" ry="6.5"/><circle cx="284.5" cy="457.5" r="4.6"/><circle cx="293.0" cy="456.0" r="5"/><circle cx="300.0" cy="459.5" r="4.2"/><circle cx="279.5" cy="463.0" r="4"/><circle cx="291.5" cy="468.0" r="4.2"/><circle cx="300.5" cy="465.5" r="3.6"/></g>
<text x="290.5" y="464.3" font-size="7.5" fill="#1a78c0" text-anchor="middle">twinkl</text>
<circle cx="46.3" cy="68.4" r="26.4" fill="#fff" stroke="#1598da" stroke-width="2"/>
<circle cx="108.5" cy="90.9" r="26.4" fill="#fff" stroke="#1598da" stroke-width="2"/>
<g clip-path="url(#p2c1)"><rect x="98.5" y="92.9" width="40" height="26" fill="#dfe2e5"/><circle cx="118.5" cy="81.9" r="12" fill="#ffffff" stroke="#9cd6f2" stroke-width="1.6"/><ellipse cx="120.5" cy="82.9" rx="4.5" ry="9" fill="#8a949c" stroke="#201820" stroke-width="1.6"/></g>
<circle cx="172.2" cy="113.4" r="26.4" fill="#fff" stroke="#1598da" stroke-width="2"/>
<g clip-path="url(#p2c2)"><circle cx="172.2" cy="113.4" r="20.5" fill="none" stroke="#6a5ac8" stroke-width="2.3"/><path d="M172.2,92.9 L172.2,133.9 M172.2,116.4 L157.7,127.9 M172.2,116.4 L186.7,127.9" stroke="#6a5ac8" stroke-width="2.3"/></g>
<circle cx="235.9" cy="90.9" r="26.4" fill="#fff" stroke="#1598da" stroke-width="2"/>
<g clip-path="url(#p2c3)"><ellipse cx="219.9" cy="84.9" rx="3.6" ry="4.4" fill="#2e2018"/><rect x="214.9" y="88.9" width="10" height="15.8" rx="2" fill="#e6ece4"/><rect x="215.9" y="103.7" width="8" height="16" fill="#3a6aa0"/><ellipse cx="230.9" cy="89.9" rx="3.6" ry="4.4" fill="#3a2818"/><rect x="225.9" y="93.9" width="10" height="14.3" rx="2" fill="#2ea8a0"/><rect x="226.9" y="107.2" width="8" height="16" fill="#8a8a90"/><ellipse cx="241.9" cy="73.9" rx="3.6" ry="4.4" fill="#5a3a28"/><rect x="236.9" y="77.9" width="10" height="19.1" rx="2" fill="#f6f6f6"/><rect x="237.9" y="96.0" width="8" height="16" fill="#98a0a0"/><ellipse cx="252.9" cy="84.9" rx="3.6" ry="4.4" fill="#5a3a28"/><rect x="247.9" y="88.9" width="10" height="15.8" rx="2" fill="#6a78c8"/><rect x="248.9" y="103.7" width="8" height="16" fill="#b09080"/><path d="M225.9,82.9 l4,-6 l1,6z" fill="#d02020"/></g>
<circle cx="298.1" cy="68.4" r="26.4" fill="#fff" stroke="#1598da" stroke-width="2"/>
<g clip-path="url(#p2c4)"><path d="M298.1,89.4 C264.1,68.4 274.1,40.400000000000006 298.1,55.400000000000006 C322.1,40.400000000000006 332.1,68.4 298.1,89.4Z" fill="#d8242a"/><circle cx="298.1" cy="69.9" r="13" fill="#3f6fa2"/><path d="M294.1,60.400000000000006 q8,-3 12,4 q2,8 -3,12 q-5,3 -6,-6z" fill="#8fa050"/><path d="M287.1,66.4 q4,-4 7,0 q-2,5 -7,0z M290.1,76.4 q5,-2 8,2 q-4,4 -8,-2z" fill="#c8b070"/><path d="M288.1,61.400000000000006 q4,-3 8,-1 M301.1,79.4 q4,1 7,-2" stroke="#e8eef4" stroke-width="1.4" fill="none"/></g>
<text x="34.23" y="30.30" font-size="23" textLength="273.47" lengthAdjust="spacingAndGlyphs" fill="#fff" stroke="#14308a" stroke-width="3.4" stroke-linejoin="round" paint-order="stroke">Individual &amp; Community</text>
</svg>
</div>
<div class="poster" id="p1" style="left:119.5px">
<svg width="343.5" height="485.0" viewBox="0 0 343.5 485.0" style="position:absolute;left:0;top:0" font-family="Liberation Sans" font-weight="bold">
<defs>
<clipPath id="p1c0"><circle cx="46.3" cy="68.4" r="26.4"/></clipPath>
<clipPath id="p1c1"><circle cx="108.5" cy="90.9" r="26.4"/></clipPath>
<clipPath id="p1c2"><circle cx="172.2" cy="113.4" r="26.4"/></clipPath>
<clipPath id="p1c3"><circle cx="235.9" cy="90.9" r="26.4"/></clipPath>
<clipPath id="p1c4"><circle cx="298.1" cy="68.4" r="26.4"/></clipPath>
</defs>
<rect x="6" y="5.5" width="5.1" height="473.5" fill="#13a4a7"/><rect x="332.3" y="5.5" width="5.2" height="473.5" fill="#13a4a7"/><rect x="6" y="474.2" width="331.5" height="4.8" fill="#13a4a7"/>
<rect x="6" y="5.5" width="331.5" height="48" fill="#33b4bb"/>
<path d="M37.2,52.90 L44.2,53.59 L45.2,54.03 L46.2,54.47 L47.2,54.91 L48.2,55.34 L49.2,55.78 L50.2,56.22 L51.2,56.66 L52.2,57.09 L53.2,57.52 L54.2,57.96 L55.2,58.39 L56.2,58.82 L57.2,59.25 L58.2,59.68 L59.2,60.11 L60.2,60.54 L61.2,60.97 L62.2,61.39 L63.2,61.82 L64.2,62.24 L65.2,62.67 L66.2,63.09 L67.2,63.51 L68.2,63.93 L69.2,64.35 L70.2,64.77 L71.2,65.19 L72.2,65.61 L73.2,66.02 L74.2,66.44 L75.2,66.85 L76.2,67.26 L77.2,67.68 L78.2,68.09 L79.2,68.50 L80.2,68.91 L81.2,69.31 L82.2,69.72 L83.2,70.13 L84.2,70.53 L85.2,70.94 L86.2,71.34 L87.2,71.74 L88.2,72.14 L89.2,72.54 L90.2,72.94 L91.2,73.34 L92.2,73.73 L93.2,74.13 L94.2,74.52 L95.2,74.91 L96.2,75.30 L97.2,75.69 L98.2,76.08 L99.2,76.47 L100.2,76.86 L101.2,77.24 L102.2,77.62 L103.2,78.01 L104.2,78.39 L105.2,78.77 L106.2,79.15 L107.2,79.52 L108.2,79.90 L109.2,80.27 L110.2,80.65 L111.2,81.02 L112.2,81.39 L113.2,81.76 L114.2,82.13 L115.2,82.49 L116.2,82.86 L117.2,83.22 L118.2,83.58 L119.2,83.94 L120.2,84.30 L121.2,84.66 L122.2,85.01 L123.2,85.36 L124.2,85.72 L125.2,86.06 L126.2,86.41 L127.2,86.76 L128.2,87.10 L129.2,87.45 L130.2,87.79 L131.2,88.13 L132.2,88.46 L133.2,88.80 L134.2,89.13 L135.2,89.46 L136.2,89.79 L137.2,90.12 L138.2,90.44 L139.2,90.77 L140.2,91.09 L141.2,91.40 L142.2,91.72 L143.2,92.03 L144.2,92.34 L145.2,92.65 L146.2,92.96 L147.2,93.26 L148.2,93.56 L149.2,93.86 L150.2,94.15 L151.2,94.44 L152.2,94.73 L153.2,95.01 L154.2,95.29 L155.2,95.57 L156.2,95.84 L157.2,96.11 L158.2,96.38 L159.2,96.64 L160.2,96.89 L161.2,97.14 L162.2,97.39 L163.2,97.63 L164.2,97.86 L165.2,98.09 L166.2,98.31 L167.2,98.52 L168.2,98.72 L169.2,98.91 L170.2,99.09 L171.2,99.25 L172.2,99.36 L173.2,99.25 L174.2,99.09 L175.2,98.91 L176.2,98.72 L177.2,98.52 L178.2,98.31 L179.2,98.09 L180.2,97.86 L181.2,97.63 L182.2,97.39 L183.2,97.14 L184.2,96.89 L185.2,96.64 L186.2,96.38 L187.2,96.11 L188.2,95.84 L189.2,95.57 L190.2,95.29 L191.2,95.01 L192.2,94.73 L193.2,94.44 L194.2,94.15 L195.2,93.86 L196.2,93.56 L197.2,93.26 L198.2,92.96 L199.2,92.65 L200.2,92.34 L201.2,92.03 L202.2,91.72 L203.2,91.40 L204.2,91.09 L205.2,90.77 L206.2,90.44 L207.2,90.12 L208.2,89.79 L209.2,89.46 L210.2,89.13 L211.2,88.80 L212.2,88.46 L213.2,88.13 L214.2,87.79 L215.2,87.45 L216.2,87.10 L217.2,86.76 L218.2,86.41 L219.2,86.06 L220.2,85.72 L221.2,85.36 L222.2,85.01 L223.2,84.66 L224.2,84.30 L225.2,83.94 L226.2,83.58 L227.2,83.22 L228.2,82.86 L229.2,82.49 L230.2,82.13 L231.2,81.76 L232.2,81.39 L233.2,81.02 L234.2,80.65 L235.2,80.27 L236.2,79.90 L237.2,79.52 L238.2,79.15 L239.2,78.77 L240.2,78.39 L241.2,78.01 L242.2,77.62 L243.2,77.24 L244.2,76.86 L245.2,76.47 L246.2,76.08 L247.2,75.69 L248.2,75.30 L249.2,74.91 L250.2,74.52 L251.2,74.13 L252.2,73.73 L253.2,73.34 L254.2,72.94 L255.2,72.54 L256.2,72.14 L257.2,71.74 L258.2,71.34 L259.2,70.94 L260.2,70.53 L261.2,70.13 L262.2,69.72 L263.2,69.31 L264.2,68.91 L265.2,68.50 L266.2,68.09 L267.2,67.68 L268.2,67.26 L269.2,66.85 L270.2,66.44 L271.2,66.02 L272.2,65.61 L273.2,65.19 L274.2,64.77 L275.2,64.35 L276.2,63.93 L277.2,63.51 L278.2,63.09 L279.2,62.67 L280.2,62.24 L281.2,61.82 L282.2,61.39 L283.2,60.97 L284.2,60.54 L285.2,60.11 L286.2,59.68 L287.2,59.25 L288.2,58.82 L289.2,58.39 L290.2,57.96 L291.2,57.52 L292.2,57.09 L293.2,56.66 L294.2,56.22 L295.2,55.78 L296.2,55.34 L297.2,54.91 L298.2,54.47 L299.2,54.03 L300.2,53.59 L307.2,52.90 Z" fill="#33b4bb"/>
<path d="M44.2,53.59 L45.2,54.03 L46.2,54.47 L47.2,54.91 L48.2,55.34 L49.2,55.78 L50.2,56.22 L51.2,56.66 L52.2,57.09 L53.2,57.52 L54.2,57.96 L55.2,58.39 L56.2,58.82 L57.2,59.25 L58.2,59.68 L59.2,60.11 L60.2,60.54 L61.2,60.97 L62.2,61.39 L63.2,61.82 L64.2,62.24 L65.2,62.67 L66.2,63.09 L67.2,63.51 L68.2,63.93 L69.2,64.35 L70.2,64.77 L71.2,65.19 L72.2,65.61 L73.2,66.02 L74.2,66.44 L75.2,66.85 L76.2,67.26 L77.2,67.68 L78.2,68.09 L79.2,68.50 L80.2,68.91 L81.2,69.31 L82.2,69.72 L83.2,70.13 L84.2,70.53 L85.2,70.94 L86.2,71.34 L87.2,71.74 L88.2,72.14 L89.2,72.54 L90.2,72.94 L91.2,73.34 L92.2,73.73 L93.2,74.13 L94.2,74.52 L95.2,74.91 L96.2,75.30 L97.2,75.69 L98.2,76.08 L99.2,76.47 L100.2,76.86 L101.2,77.24 L102.2,77.62 L103.2,78.01 L104.2,78.39 L105.2,78.77 L106.2,79.15 L107.2,79.52 L108.2,79.90 L109.2,80.27 L110.2,80.65 L111.2,81.02 L112.2,81.39 L113.2,81.76 L114.2,82.13 L115.2,82.49 L116.2,82.86 L117.2,83.22 L118.2,83.58 L119.2,83.94 L120.2,84.30 L121.2,84.66 L122.2,85.01 L123.2,85.36 L124.2,85.72 L125.2,86.06 L126.2,86.41 L127.2,86.76 L128.2,87.10 L129.2,87.45 L130.2,87.79 L131.2,88.13 L132.2,88.46 L133.2,88.80 L134.2,89.13 L135.2,89.46 L136.2,89.79 L137.2,90.12 L138.2,90.44 L139.2,90.77 L140.2,91.09 L141.2,91.40 L142.2,91.72 L143.2,92.03 L144.2,92.34 L145.2,92.65 L146.2,92.96 L147.2,93.26 L148.2,93.56 L149.2,93.86 L150.2,94.15 L151.2,94.44 L152.2,94.73 L153.2,95.01 L154.2,95.29 L155.2,95.57 L156.2,95.84 L157.2,96.11 L158.2,96.38 L159.2,96.64 L160.2,96.89 L161.2,97.14 L162.2,97.39 L163.2,97.63 L164.2,97.86 L165.2,98.09 L166.2,98.31 L167.2,98.52 L168.2,98.72 L169.2,98.91 L170.2,99.09 L171.2,99.25 L172.2,99.36 L173.2,99.25 L174.2,99.09 L175.2,98.91 L176.2,98.72 L177.2,98.52 L178.2,98.31 L179.2,98.09 L180.2,97.86 L181.2,97.63 L182.2,97.39 L183.2,97.14 L184.2,96.89 L185.2,96.64 L186.2,96.38 L187.2,96.11 L188.2,95.84 L189.2,95.57 L190.2,95.29 L191.2,95.01 L192.2,94.73 L193.2,94.44 L194.2,94.15 L195.2,93.86 L196.2,93.56 L197.2,93.26 L198.2,92.96 L199.2,92.65 L200.2,92.34 L201.2,92.03 L202.2,91.72 L203.2,91.40 L204.2,91.09 L205.2,90.77 L206.2,90.44 L207.2,90.12 L208.2,89.79 L209.2,89.46 L210.2,89.13 L211.2,88.80 L212.2,88.46 L213.2,88.13 L214.2,87.79 L215.2,87.45 L216.2,87.10 L217.2,86.76 L218.2,86.41 L219.2,86.06 L220.2,85.72 L221.2,85.36 L222.2,85.01 L223.2,84.66 L224.2,84.30 L225.2,83.94 L226.2,83.58 L227.2,83.22 L228.2,82.86 L229.2,82.49 L230.2,82.13 L231.2,81.76 L232.2,81.39 L233.2,81.02 L234.2,80.65 L235.2,80.27 L236.2,79.90 L237.2,79.52 L238.2,79.15 L239.2,78.77 L240.2,78.39 L241.2,78.01 L242.2,77.62 L243.2,77.24 L244.2,76.86 L245.2,76.47 L246.2,76.08 L247.2,75.69 L248.2,75.30 L249.2,74.91 L250.2,74.52 L251.2,74.13 L252.2,73.73 L253.2,73.34 L254.2,72.94 L255.2,72.54 L256.2,72.14 L257.2,71.74 L258.2,71.34 L259.2,70.94 L260.2,70.53 L261.2,70.13 L262.2,69.72 L263.2,69.31 L264.2,68.91 L265.2,68.50 L266.2,68.09 L267.2,67.68 L268.2,67.26 L269.2,66.85 L270.2,66.44 L271.2,66.02 L272.2,65.61 L273.2,65.19 L274.2,64.77 L275.2,64.35 L276.2,63.93 L277.2,63.51 L278.2,63.09 L279.2,62.67 L280.2,62.24 L281.2,61.82 L282.2,61.39 L283.2,60.97 L284.2,60.54 L285.2,60.11 L286.2,59.68 L287.2,59.25 L288.2,58.82 L289.2,58.39 L290.2,57.96 L291.2,57.52 L292.2,57.09 L293.2,56.66 L294.2,56.22 L295.2,55.78 L296.2,55.34 L297.2,54.91 L298.2,54.47 L299.2,54.03 L300.2,53.59" fill="none" stroke="#13a4a7" stroke-width="1"/>
<rect x="271" y="448" width="39.5" height="27" fill="#22adb2"/>
<g fill="#fff"><ellipse cx="290.5" cy="462.5" rx="12.5" ry="6.5"/><circle cx="284.5" cy="457.5" r="4.6"/><circle cx="293.0" cy="456.0" r="5"/><circle cx="300.0" cy="459.5" r="4.2"/><circle cx="279.5" cy="463.0" r="4"/><circle cx="291.5" cy="468.0" r="4.2"/><circle cx="300.5" cy="465.5" r="3.6"/></g>
<text x="290.5" y="464.3" font-size="7.5" fill="#0e8a8e" text-anchor="middle">twinkl</text>
<circle cx="46.3" cy="68.4" r="26.4" fill="#fff" stroke="#10a0a2" stroke-width="2"/>
<g clip-path="url(#p1c0)"><path d="M44.699999999999996,57.400000000000006 L47.9,57.400000000000006 L49.3,90.4 L43.3,90.4Z" fill="#e2c48e" stroke="#b08850" stroke-width=".6"/><path d="M27.299999999999997,59.400000000000006 Q46.3,55.400000000000006 65.3,59.400000000000006" stroke="#7a4a20" stroke-width="1.8" fill="none"/><circle cx="46.3" cy="56.400000000000006" r="2.6" fill="#6a1810"/><path d="M31.299999999999997,59.400000000000006 L21.799999999999997,71.4 M31.299999999999997,59.400000000000006 L40.8,71.4" stroke="#8a7070" stroke-width=".7"/><path d="M20.799999999999997,71.4 L41.8,71.4 Q40.3,78.4 31.299999999999997,78.4 Q22.299999999999997,78.4 20.799999999999997,71.4Z" fill="#b8b8b8" stroke="#111" stroke-width="1.3"/><path d="M23.299999999999997,73.4 L39.3,73.4" stroke="#eee" stroke-width="1"/><path d="M61.3,59.400000000000006 L51.8,71.4 M61.3,59.400000000000006 L70.8,71.4" stroke="#8a7070" stroke-width=".7"/><path d="M50.8,71.4 L71.8,71.4 Q70.3,78.4 61.3,78.4 Q52.3,78.4 50.8,71.4Z" fill="#b8b8b8" stroke="#111" stroke-width="1.3"/><path d="M53.3,73.4 L69.3,73.4" stroke="#eee" stroke-width="1"/></g>
<circle cx="108.5" cy="90.9" r="26.4" fill="#fff" stroke="#10a0a2" stroke-width="2"/>
<g clip-path="url(#p1c1)"><path d="M88.5,64.9 L101.5,64.9 Q103.5,76.9 106.5,84.9 L110.5,84.9 Q113.5,76.9 115.5,64.9 L128.5,64.9 Q130.5,78.9 132.5,88.9 Q132.5,98.9 122.5,104.9 Q112.5,108.9 108.5,106.9 Q104.5,108.9 94.5,104.9 Q84.5,98.9 84.5,88.9 Q86.5,78.9 88.5,64.9Z" fill="#efd6c4"/><path d="M87.5,92.9 Q92.5,102.9 104.5,104.9 M129.5,92.9 Q124.5,102.9 112.5,104.9 M90.5,98.9 L100.5,100.9 M126.5,98.9 L116.5,100.9 M88.5,86.9 Q92.5,92.9 96.5,94.9 M128.5,86.9 Q124.5,92.9 120.5,94.9" stroke="#c49a84" stroke-width=".9" fill="none"/><path d="M98.5,66.9 Q101.5,78.9 105.5,85.9 M118.5,66.9 Q115.5,78.9 111.5,85.9" stroke="#d8b8a4" stroke-width="1" fill="none"/><path d="M109.5,99.9 C94.5,90.9 97.5,79.9 109.5,86.9 C120.5,79.9 123.5,90.9 109.5,99.9Z" fill="#ea6078" stroke="#c84862" stroke-width=".6"/></g>
<circle cx="172.2" cy="113.4" r="26.4" fill="#fff" stroke="#10a0a2" stroke-width="2"/>
<g clip-path="url(#p1c2)"><rect x="145.2" y="126.4" width="54" height="16" fill="#f0ecef"/><path d="M150.2,127.4 L188.2,129.4 M154.2,132.4 L184.2,134.4" stroke="#d8b0c0" stroke-width=".9"/><path d="M145.2,113.4 Q153.2,109.4 163.2,113.4 L167.2,126.4 L145.2,127.4Z" fill="#b4abe2"/><ellipse cx="157.2" cy="105.4" rx="6.3" ry="7.6" fill="#5a3626"/><path d="M150.7,104.4 Q151.2,96.4 157.2,97.4 Q163.2,96.4 163.7,104.4 Q160.2,99.4 150.7,104.4Z" fill="#1e120c"/><path d="M164.2,114.4 Q172.2,119.4 180.2,125.4" stroke="#3e2418" stroke-width="2.6" fill="none"/><path d="M175.2,111.4 Q185.2,105.4 196.2,111.4 L198.2,127.4 L175.2,127.4Z" fill="#bcd4e6"/><path d="M180.2,115.4 L182.2,125.4 M188.2,113.4 L188.2,125.4" stroke="#8aa8c0" stroke-width=".8"/><ellipse cx="184.2" cy="101.4" rx="6.3" ry="7.6" fill="#5e3a28"/><path d="M177.7,100.4 Q178.2,92.4 184.2,93.4 Q190.2,92.4 190.7,100.4 Q187.2,95.4 177.7,100.4Z" fill="#1e120c"/><path d="M177.2,116.4 Q174.2,122.4 171.2,126.4" stroke="#4a2c1e" stroke-width="2.6" fill="none"/></g>
<circle cx="235.9" cy="90.9" r="26.4" fill="#fff" stroke="#10a0a2" stroke-width="2"/>
<g clip-path="url(#p1c3)"><path d="M207.9,83.9 L227.9,81.9 L241.9,87.9 L237.9,94.9 L225.9,92.9 L207.9,96.9Z" fill="#f2c890"/><path d="M263.9,77.9 L241.9,78.9 L229.9,84.9 L223.9,94.9 Q229.9,106.9 237.9,104.9 L247.9,94.9 L263.9,92.9Z" fill="#a8805c"/><path d="M227.9,87.9 L245.9,85.9 L247.9,95.9 L233.9,102.9 L227.9,96.9Z" fill="#ecc088"/><path d="M231.9,92.9 L243.9,90.9 M233.9,96.9 L243.9,94.9" stroke="#b0885a" stroke-width=".7"/></g>
<circle cx="298.1" cy="68.4" r="26.4" fill="#fff" stroke="#10a0a2" stroke-width="2"/>
<g clip-path="url(#p1c4)"><path d="M298.1,46.400000000000006 C311.1,46.400000000000006 315.1,56.400000000000006 314.1,69.4 C313.1,82.4 305.1,90.4 298.1,90.4 C291.1,90.4 283.1,82.4 282.1,69.4 C281.1,56.400000000000006 285.1,46.400000000000006 298.1,46.400000000000006Z" fill="none" stroke="#1a1a1a" stroke-width=".9"/><path d="M282.1,66.4 q-4,1 -2,6 q1,3 3,3 M314.1,66.4 q4,1 2,6 q-1,3 -3,3" fill="#ccc" stroke="#333" stroke-width=".8"/><path d="M291.1,70.4 L296.1,77.4 L309.1,58.400000000000006" stroke="#18a2a2" stroke-width="2.8" fill="none" stroke-linecap="round"/></g>
<text x="55.55" y="32.90" font-size="23" textLength="232.09" lengthAdjust="spacingAndGlyphs" fill="#fff" stroke="#075a5e" stroke-width="3.4" stroke-linejoin="round" paint-order="stroke">Character &amp; Morality</text>
</svg>
</div>
<svg width="1260" height="630" style="position:absolute;left:0;top:0">
<path d="M138,519 L168,513 L206,516 L206,533 L168,537 L138,535Z" fill="#cfd5cf" stroke="#1a1a1a" stroke-width="1"/>
<path d="M138,519 L168,524 L206,519" fill="none" stroke="#1a1a1a" stroke-width=".8"/>
<path d="M160,495 Q153,505 156,514 Q174,521 194,514 Q196,504 190,495Z" fill="#e4e7e4" stroke="#1a1a1a" stroke-width="1"/>
<rect x="159" y="484" width="31" height="11" rx="4" fill="#e4e7e4" stroke="#1a1a1a" stroke-width="1"/>
<rect x="162.4" y="269" width="24.2" height="216" fill="#e6e9e6" stroke="#1a1a1a" stroke-width="1.1"/>
<rect x="165" y="270" width="6" height="213" fill="#d2d9d6"/>
<rect x="163.95" y="272" width="1.1" height="209" rx=".5" fill="#1a1a1a"/>
<rect x="168.20" y="272" width="1.6" height="209" rx=".5" fill="#3e4e48"/>
<rect x="170.95" y="272" width="1.1" height="209" rx=".5" fill="#1a1a1a"/>
<rect x="174.55" y="272" width="1.1" height="209" rx=".5" fill="#4a3a40"/>
<rect x="177.20" y="272" width="1.6" height="209" rx=".5" fill="#3a3a36"/>
<rect x="181.80" y="272" width="1.2" height="209" rx=".5" fill="#2a2a28"/>
<rect x="183.80" y="272" width="1.0" height="209" rx=".5" fill="#1a1a1a"/>
<rect x="159.5" y="262.5" width="28" height="7" fill="#e4e7e4" stroke="#1a1a1a" stroke-width="1"/>
<path d="M139,236 L207,236 Q211,246 201,251 L197,263.5 L150,263.5 L146,251 Q135,246 139,236Z" fill="#c4ccc6" stroke="#1a1a1a" stroke-width="1.3"/>
<g fill="none" stroke="#1a1a1a" stroke-width="1.5" stroke-linecap="round"><path d="M141,240 q-5,7 1,12 q6,3 7,-4 q0,-4 -4,-3"/><path d="M206,240 q5,7 -1,12 q-6,3 -7,-4 q0,-4 4,-3"/><path d="M148,262 q-4,-8 2,-12 q6,-2 5,4 q-1,3 -3,2"/><path d="M199,262 q4,-8 -2,-12 q-6,-2 -5,4 q1,3 3,2"/><path d="M150,240 q4,-3 7,0 q4,3 8,-1 M182,239 q4,3 8,0 q4,-3 7,1"/><path d="M166,242 q6,9 -1,19 M181,242 q-6,9 1,19 M173.5,246 L173.5,263"/><path d="M156,245 q8,5 5,14 M191,245 q-8,5 -5,14"/><path d="M158,252 q5,-3 8,2 q-3,5 -8,3 M183,254 q3,-5 8,-2 q-2,5 -8,2"/><path d="M152,256 l4,3 M195,256 l-4,3 M162,241 l3,4 M185,241 l-3,4"/></g>
<g fill="#1a1a1a"><circle cx="173.5" cy="240.5" r="3.2"/><ellipse cx="168" cy="250" rx="2" ry="3"/><ellipse cx="179" cy="250" rx="2" ry="3"/><circle cx="143" cy="246" r="1.6"/><circle cx="204" cy="246" r="1.6"/><ellipse cx="161" cy="259" rx="2" ry="1.5"/><ellipse cx="186" cy="259" rx="2" ry="1.5"/></g>
<circle cx="173.5" cy="240.5" r="1.5" fill="#dde2de"/>
<path d="M136,230.8 L172.3,224.4 L209.7,229.3 L205,236 L172.3,233 L140,236.5Z" fill="#e4e8e4" stroke="#1a1a1a" stroke-width="1.3" stroke-linejoin="round"/>
<path d="M172.3,224.4 L172.3,233 M137.5,232.6 L172.3,227.5 L208,231.5" fill="none" stroke="#1a1a1a" stroke-width=".9"/>
</svg>
<div class="card" style="left:30px;top:151.3px;width:180.3px;height:57.7px"><div class="tw"></div></div>
<div class="card" style="left:74px;top:351.6px;width:181.4px;height:59.5px"><div class="tw"></div></div>
<div class="card" style="left:164.5px;top:520.3px;width:180.8px;height:58.9px"><div class="tw"></div></div>
<div class="card" style="left:360.1px;top:274.5px;width:181.2px;height:60.3px"><div class="tw"></div></div>
<div class="card" style="left:785.9px;top:30.8px;width:181.5px;height:59.8px"><div class="tw"></div></div>
<div class="card" style="left:762.2px;top:214.8px;width:181.1px;height:60px"><div class="tw"></div></div>
<div class="card" style="left:615.9px;top:381.8px;width:180.5px;height:59.3px"><div class="tw"></div></div>
<div class="card" style="left:807.8px;top:539.2px;width:180.5px;height:59.4px"><div class="tw"></div></div>
<div class="card" style="left:1047.3px;top:236.4px;width:181px;height:59.2px"><div class="tw"></div></div>
<div class="card" style="left:990.9px;top:413px;width:181.1px;height:59.7px"><div class="tw"></div></div>
<svg width="1260" height="630" style="position:absolute;left:0;top:0;will-change:transform" font-family="Liberation Sans" font-weight="bold" fill="#111" stroke="#111" stroke-width="0.3">
<text x="69.16" y="182.80" font-size="12.5" textLength="100.68" lengthAdjust="spacingAndGlyphs" >Me and my world.</text>
<text x="115.66" y="384.50" font-size="12.5" textLength="98.60" lengthAdjust="spacingAndGlyphs" >Digital challenge.</text>
<text x="191.69" y="554.00" font-size="12.5" textLength="127.38" lengthAdjust="spacingAndGlyphs" >Ethics in sport; leisure.</text>
<text x="383.18" y="300.00" font-size="12.5" textLength="135.21" lengthAdjust="spacingAndGlyphs" >Taking responsibility for</text>
<text x="407.53" y="316.90" font-size="12.5" textLength="86.18" lengthAdjust="spacingAndGlyphs" >self and others.</text>
<text x="808.63" y="57.60" font-size="12.5" textLength="135.80" lengthAdjust="spacingAndGlyphs" >Cognitive and emotional</text>
<text x="850.41" y="73.00" font-size="12.5" textLength="52.38" lengthAdjust="spacingAndGlyphs" >empathy.</text>
<text x="788.01" y="248.50" font-size="12.5" textLength="128.51" lengthAdjust="spacingAndGlyphs" >Making good decisions.</text>
<text x="647.79" y="407.90" font-size="12.5" textLength="118.41" lengthAdjust="spacingAndGlyphs" >Tolerance; respect for</text>
<text x="677.54" y="423.50" font-size="12.5" textLength="58.74" lengthAdjust="spacingAndGlyphs" >difference.</text>
<text x="858.40" y="572.70" font-size="12.5" textLength="78.24" lengthAdjust="spacingAndGlyphs" >Human needs.</text>
<text x="1062.31" y="252.60" font-size="9.3" textLength="150.94" lengthAdjust="spacingAndGlyphs" >Trade, travel and communications:</text>
<text x="1064.76" y="263.70" font-size="9.3" textLength="145.47" lengthAdjust="spacingAndGlyphs" >UAE in an increasingly globalised</text>
<text x="1080.43" y="275.30" font-size="9.3" textLength="114.50" lengthAdjust="spacingAndGlyphs" >and interconnected world:</text>
<text x="1097.73" y="286.40" font-size="9.3" textLength="80.41" lengthAdjust="spacingAndGlyphs" >cultural exchange.</text>
<text x="1010.16" y="439.50" font-size="12.5" textLength="141.96" lengthAdjust="spacingAndGlyphs" >Morality in the context of</text>
<text x="1043.84" y="454.60" font-size="12.5" textLength="74.72" lengthAdjust="spacingAndGlyphs" >communities.</text>
</svg>
</body></html>
